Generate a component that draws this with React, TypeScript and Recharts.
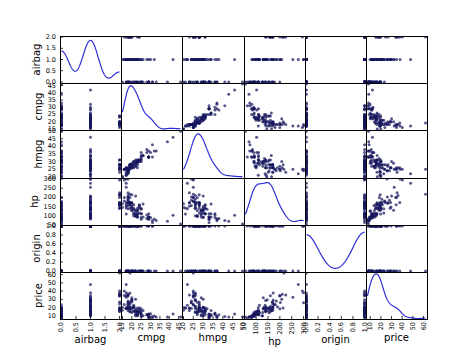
import React from 'react';
import { ComposedChart, Scatter, Line, XAxis, YAxis } from 'recharts';

// ---- data (Cars93-style) ----
const airbag = [
  0, 2, 1, 2, 1, 1, 1, 1, 1, 1,
  2, 0, 1, 2, 0, 0, 0, 1, 1, 2,
  2, 1, 0, 1, 1, 1, 1, 1, 0, 2,
  0, 0, 0, 1, 1, 1, 1, 1, 0, 1,
  2, 1, 2, 0, 0, 0, 0, 1, 1, 2,
  2, 2, 0, 0, 1, 0, 1, 1, 2, 1,
  0, 0, 1, 1, 1, 0, 1, 0, 1, 0,
  1, 0, 0, 0, 2, 0, 2, 1, 1, 0,
  0, 1, 0, 1, 1, 1, 1, 0, 0, 0,
  0, 1, 2,
];
const cmpg = [
  25, 18, 20, 19, 22, 22, 19, 16, 19, 16,
  16, 25, 25, 19, 21, 18, 15, 17, 17, 20,
  23, 20, 29, 23, 22, 17, 21, 18, 29, 20,
  31, 23, 22, 22, 24, 15, 21, 18, 46, 30,
  24, 42, 24, 29, 22, 26, 20, 17, 18, 18,
  17, 18, 29, 28, 26, 18, 17, 20, 19, 23,
  19, 29, 18, 29, 24, 17, 21, 24, 23, 18,
  19, 23, 31, 23, 19, 19, 19, 20, 28, 33,
  25, 23, 39, 32, 25, 22, 18, 25, 17, 21,
  18, 21, 20,
];
const hmpg = [
  31, 25, 26, 26, 30, 31, 28, 25, 27, 25,
  25, 36, 34, 28, 29, 23, 20, 26, 25, 28,
  28, 26, 33, 29, 27, 21, 27, 24, 33, 28,
  33, 30, 27, 29, 30, 20, 30, 26, 50, 36,
  31, 46, 31, 33, 29, 34, 27, 22, 24, 23,
  26, 26, 37, 36, 34, 24, 25, 29, 25, 26,
  26, 33, 24, 33, 30, 23, 26, 31, 31, 23,
  28, 30, 41, 31, 28, 27, 28, 26, 38, 37,
  30, 30, 43, 37, 32, 29, 22, 33, 21, 30,
  25, 28, 28,
];
const hp = [
  140, 200, 172, 172, 208, 110, 170, 180, 170, 200,
  295, 110, 110, 160, 110, 170, 165, 170, 300, 153,
  141, 147, 92, 93, 100, 142, 100, 300, 92, 214,
  63, 127, 96, 105, 115, 145, 140, 190, 55, 90,
  160, 102, 140, 81, 124, 92, 128, 278, 185, 225,
  160, 210, 82, 103, 164, 155, 255, 130, 217, 100,
  140, 92, 202, 110, 150, 151, 160, 155, 110, 170,
  170, 92, 74, 110, 160, 200, 170, 140, 85, 73,
  90, 130, 70, 82, 135, 130, 138, 81, 109, 134,
  178, 114, 168,
];
const origin = [
  0, 0, 0, 0, 0, 1, 1, 1, 1, 1,
  1, 1, 1, 1, 1, 1, 1, 1, 1, 1,
  1, 1, 1, 1, 1, 1, 1, 1, 1, 1,
  1, 1, 1, 1, 1, 1, 1, 1, 0, 0,
  0, 0, 0, 0, 0, 0, 0, 0, 0, 0,
  1, 1, 0, 0, 0, 0, 0, 0, 0, 1,
  1, 0, 0, 0, 0, 0, 0, 1, 1, 1,
  1, 1, 1, 1, 1, 1, 1, 0, 1, 0,
  0, 0, 0, 0, 0, 0, 0, 0, 0, 0,
  0, 0, 0,
];
const price = [
  15.9, 33.9, 29.1, 37.7, 30.0, 15.7, 20.8, 23.7, 26.3, 34.7,
  40.1, 13.4, 11.4, 15.1, 15.9, 16.3, 16.6, 18.8, 38.0, 18.4,
  15.8, 29.5, 9.2, 11.3, 13.3, 19.0, 15.6, 25.8, 12.2, 19.3,
  7.4, 10.1, 11.3, 15.9, 14.0, 19.9, 20.2, 20.9, 8.4, 12.5,
  19.8, 12.1, 17.5, 8.0, 10.0, 10.0, 13.9, 47.9, 28.0, 35.2,
  34.3, 36.1, 8.3, 11.6, 16.5, 19.1, 32.5, 31.9, 61.9, 14.1,
  14.9, 10.3, 26.1, 11.8, 15.7, 19.1, 21.5, 13.5, 16.3, 19.5,
  20.7, 14.4, 9.0, 11.1, 17.7, 18.5, 24.4, 28.7, 11.1, 8.4,
  10.9, 19.5, 8.6, 9.8, 18.4, 18.2, 22.7, 9.1, 19.7, 20.0,
  23.3, 22.7, 26.7,
];

const variableNames = ['airbag', 'cmpg', 'hmpg', 'hp', 'origin', 'price'];
const airbagTicks = [0, 0.5, 1, 1.5, 2];
const cmpgTicks = [15, 20, 25, 30, 35, 40, 45];
const hmpgTicks = [20, 25, 30, 35, 40, 45, 50];
const hpTicks = [50, 100, 150, 200, 250, 300];
const originTicks = [0, 0.2, 0.4, 0.6, 0.8, 1];
const priceTicks = [10, 20, 30, 40, 50, 60];
const tickDecimals = [1, 0, 0, 0, 1, 0];

const columns = [airbag, cmpg, hmpg, hp, origin, price];
const tickSets = [airbagTicks, cmpgTicks, hmpgTicks, hpTicks, originTicks, priceTicks];

// ---- layout ----
const W = 474;
const H = 355;
const COL = [60, 121, 182, 244, 305, 366, 427];
const ROW = [36, 83, 130, 178, 225, 272, 319];
const FONT = '"DejaVu Sans", Verdana, sans-serif';
const TICK_FS = 6.5;
const TITLE_FS = 10;
const DOT_FILL = '#16165e';
const LINE_COLOR = '#2f2fd8';

// ---- helpers ----
function bounds(v: number[]): [number, number] {
  const mn = Math.min(...v);
  const mx = Math.max(...v);
  const ext = ((mx - mn) * 0.05) / 2;
  return [mn - ext, mx + ext];
}

// gaussian kernel density (Scott's rule), evaluated over the data range
function kde(v: number[], n = 160) {
  const N = v.length;
  const mean = v.reduce((a, b) => a + b, 0) / N;
  const variance = v.reduce((a, b) => a + (b - mean) * (b - mean), 0) / (N - 1);
  const h = Math.sqrt(variance) * Math.pow(N, -0.2);
  const mn = Math.min(...v);
  const mx = Math.max(...v);
  const norm = 1 / (N * h * Math.sqrt(2 * Math.PI));
  const out: { x: number; y: number }[] = [];
  for (let k = 0; k < n; k++) {
    const x = mn + ((mx - mn) * k) / (n - 1);
    let s = 0;
    for (const d of v) {
      const z = (x - d) / h;
      s += Math.exp(-0.5 * z * z);
    }
    out.push({ x, y: s * norm });
  }
  return out;
}

// matplotlib-1.x style "round numbers" view limits
function niceLimits(vmin: number, vmax: number): [number, number] {
  const nbins = 9;
  const raw = (vmax - vmin) / nbins;
  const scale = Math.pow(10, Math.floor(Math.log10(raw)));
  let step = 10 * scale;
  let lo = 0;
  let hi = 0;
  for (const s of [1, 2, 5, 10]) {
    if (s < raw / scale) continue;
    step = s * scale;
    lo = Math.floor(vmin / step + 1e-9) * step;
    hi = lo + step * nbins;
    if (hi >= vmax) break;
  }
  const extra = Math.floor((hi - vmax) / step + 1e-9);
  hi -= extra * step;
  return [lo, hi];
}

function estWidth(s: string, size: number) {
  let w = 0;
  for (const c of s) w += c === '.' ? 0.318 : 0.636;
  return w * size;
}

const boundsList = columns.map(bounds);
const kdeList = columns.map((c) => kde(c));
const densLimits = kdeList.map((pts) => {
  const ys = pts.map((p) => p.y);
  return niceLimits(Math.min(...ys), Math.max(...ys));
});
const fmt = (v: number, d: number) => v.toFixed(d);
const maxTickLabelWidth = tickSets.map((t, i) =>
  Math.max(...t.map((v) => estWidth(fmt(v, tickDecimals[i]), TICK_FS)))
);

// ---- renderers ----
const Dot = (p: any) => (
  <circle cx={p.cx} cy={p.cy} r={1.5} fill={DOT_FILL} fillOpacity={0.72} />
);

const XTick = (p: any) => {
  const x = p.x;
  const y = p.base;
  return (
    <text
      x={x}
      y={y}
      transform={`rotate(-90 ${x} ${y})`}
      textAnchor="end"
      dominantBaseline="central"
      fontSize={TICK_FS}
      fontFamily={FONT}
      fill="#000"
    >
      {fmt(p.payload.value, p.dec)}
    </text>
  );
};

const YTick = (p: any) => (
  <text
    x={p.base}
    y={p.y}
    textAnchor="end"
    dominantBaseline="central"
    fontSize={TICK_FS}
    fontFamily={FONT}
    fill="#000"
  >
    {fmt(p.payload.value, p.dec)}
  </text>
);

const XTitle = (p: any) => (
  <text x={p.tx} y={p.ty} textAnchor="middle" fontSize={TITLE_FS} fontFamily={FONT} fill="#000">
    {p.text}
  </text>
);

const YTitle = (p: any) => (
  <text
    x={p.tx}
    y={p.ty}
    transform={`rotate(-90 ${p.tx} ${p.ty})`}
    textAnchor="middle"
    fontSize={TITLE_FS}
    fontFamily={FONT}
    fill="#000"
  >
    {p.text}
  </text>
);

function Cell({ i, j }: { i: number; j: number }) {
  const isLeft = j === 0;
  const isBottom = i === 5;
  const cw = COL[j + 1] - COL[j];
  const ch = ROW[i + 1] - ROW[i];
  const padL = isLeft ? COL[0] : 1;
  const padB = isBottom ? H - ROW[6] : 1;
  const diag = i === j;
  const scatterData = diag ? [] : columns[j].map((x, k) => ({ x, y: columns[i][k] }));

  const xTitleY = ch + 3 + maxTickLabelWidth[j] + 11;
  const yTitleX = padL - 4 - maxTickLabelWidth[i] - 6;

  return (
    <div style={{ position: 'absolute', left: COL[j] - padL, top: ROW[i] }}>
      <ComposedChart
        className={isLeft || isBottom ? 'ovf' : undefined}
        width={cw + padL}
        height={ch + padB}
        margin={{ top: 0, right: 0, bottom: 0, left: 0 }}
      >
        <XAxis
          xAxisId="x"
          type="number"
          dataKey="x"
          domain={boundsList[j]}
          allowDataOverflow
          ticks={tickSets[j]}
          interval={0}
          height={padB}
          axisLine={false}
          tickLine={{ stroke: '#000', strokeWidth: 0.8 }}
          tickSize={-3}
          tick={isBottom ? <XTick base={ch + 3} dec={tickDecimals[j]} /> : false}
          label={
            isBottom ? (
              <XTitle tx={padL + cw / 2} ty={xTitleY} text={variableNames[j]} />
            ) : undefined
          }
        />
        <YAxis
          yAxisId="v"
          type="number"
          dataKey="y"
          domain={boundsList[i]}
          allowDataOverflow
          ticks={tickSets[i]}
          interval={0}
          width={padL}
          axisLine={false}
          tickLine={{ stroke: '#000', strokeWidth: 0.8 }}
          tickSize={-3}
          tick={isLeft ? <YTick base={padL - 4} dec={tickDecimals[i]} /> : false}
          label={
            isLeft ? <YTitle tx={yTitleX} ty={ch / 2} text={variableNames[i]} /> : undefined
          }
        />
        {diag && (
          <YAxis
            yAxisId="d"
            orientation="right"
            type="number"
            domain={densLimits[i]}
            allowDataOverflow
            hide
          />
        )}
        {diag ? (
          <Line
            xAxisId="x"
            yAxisId="d"
            data={kdeList[i]}
            dataKey="y"
            dot={false}
            stroke={LINE_COLOR}
            strokeWidth={1.2}
            isAnimationActive={false}
          />
        ) : (
          <Scatter
            xAxisId="x"
            yAxisId="v"
            data={scatterData}
            shape={Dot}
            isAnimationActive={false}
          />
        )}
      </ComposedChart>
    </div>
  );
}

export default function App() {
  const cells: React.ReactNode[] = [];
  const borders: React.ReactNode[] = [];
  for (let i = 0; i < 6; i++) {
    for (let j = 0; j < 6; j++) {
      cells.push(<Cell key={`c${i}-${j}`} i={i} j={j} />);
      borders.push(
        <div
          key={`b${i}-${j}`}
          style={{
            position: 'absolute',
            left: COL[j],
            top: ROW[i],
            width: COL[j + 1] - COL[j] + 1,
            height: ROW[i + 1] - ROW[i] + 1,
            border: '1px solid #000',
            boxSizing: 'border-box',
            pointerEvents: 'none',
          }}
        />
      );
    }
  }
  return (
    <div
      style={{
        position: 'absolute',
        left: 0,
        top: 0,
        width: W,
        height: H,
        background: '#fff',
        overflow: 'hidden',
      }}
    >
      <style>{'.ovf .recharts-surface{overflow:visible}'}</style>
      {cells}
      {borders}
    </div>
  );
}
